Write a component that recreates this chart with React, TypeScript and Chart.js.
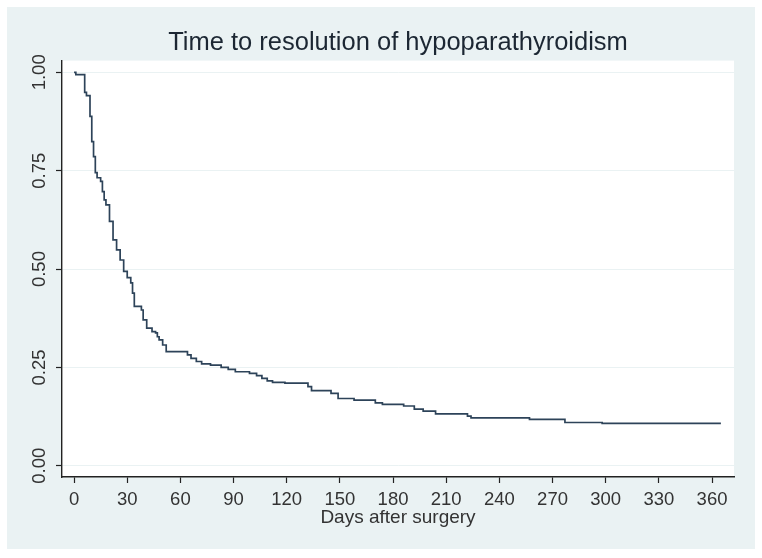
import React, { useEffect, useRef } from 'react';
import { Chart, registerables } from 'chart.js';

Chart.register(...registerables);

// Kaplan-Meier estimate (day of each step, survival after it)
const days = [
  0, 1, 6, 7, 9, 10, 11, 12, 13, 15, 16, 17, 18, 20, 22, 24, 26, 28, 30, 32, 33, 34, 38, 39, 41, 44,
  46, 47, 48, 50, 52, 64, 66, 69, 72, 77, 83, 87, 91, 99, 103, 106, 109, 112, 119, 132, 134, 145, 149,
  158, 170, 174, 186, 192, 197, 204, 222, 224, 257, 277, 298, 365,
];
const survival = [
  1.0, 0.994, 0.949, 0.941, 0.888, 0.824, 0.786, 0.745, 0.732, 0.723, 0.697, 0.676, 0.663, 0.621, 0.574,
  0.549, 0.523, 0.494, 0.478, 0.465, 0.439, 0.405, 0.396, 0.371, 0.35, 0.341, 0.338, 0.328, 0.32, 0.307,
  0.29, 0.282, 0.273, 0.265, 0.259, 0.256, 0.25, 0.245, 0.239, 0.235, 0.229, 0.222, 0.216, 0.212, 0.21,
  0.201, 0.191, 0.184, 0.171, 0.167, 0.16, 0.156, 0.152, 0.144, 0.139, 0.132, 0.126, 0.122, 0.118, 0.11,
  0.108, 0.108,
];

const xTicks = [0, 30, 60, 90, 120, 150, 180, 210, 240, 270, 300, 330, 360];
const yTicks = [0, 0.25, 0.5, 0.75, 1];

const FONT = "'Liberation Sans', Arial, Helvetica, sans-serif";

const plotBackground = {
  id: 'plotBackground',
  beforeDraw(chart: Chart) {
    const { ctx, chartArea } = chart;
    ctx.save();
    ctx.fillStyle = '#ffffff';
    ctx.fillRect(chartArea.left, chartArea.top, chartArea.right - chartArea.left, chartArea.bottom - chartArea.top);
    ctx.restore();
  },
};

export default function App() {
  const canvasRef = useRef<HTMLCanvasElement>(null);

  useEffect(() => {
    if (!canvasRef.current) return;

    const chart = new Chart(canvasRef.current, {
      type: 'line',
      data: {
        datasets: [
          {
            label: 'Survivor function',
            data: days.map((d, i) => ({ x: d, y: survival[i] })),
            borderColor: '#2d4359',
            borderWidth: 1.7,
            stepped: true,
            pointRadius: 0,
            fill: false,
          },
        ],
      },
      plugins: [plotBackground],
      options: {
        responsive: true,
        maintainAspectRatio: false,
        animation: false,
        layout: { padding: { left: 0, right: 21, top: 0, bottom: 0 } },
        plugins: {
          legend: { display: false },
          tooltip: { enabled: false },
          title: {
            display: true,
            text: 'Time to resolution of hypoparathyroidism',
            fullSize: false,
            color: '#1c2733',
            font: { family: FONT, size: 25.5, weight: 'normal' },
            padding: { top: 21, bottom: 2 },
          },
        },
        scales: {
          x: {
            type: 'linear',
            min: -6.8,
            max: 372.4,
            afterBuildTicks: (s: any) => {
              s.ticks = xTicks.map((v) => ({ value: v }));
            },
            afterFit: (s: any) => {
              s.height = 72;
            },
            grid: { drawOnChartArea: false, drawTicks: true, tickLength: 6, tickColor: '#222', tickWidth: 1.2 },
            border: { display: true, color: '#222', width: 1.4 },
            ticks: {
              autoSkip: false,
              maxRotation: 0,
              padding: 6,
              color: '#333',
              font: { family: FONT, size: 18.5 },
            },
            title: {
              display: true,
              text: 'Days after surgery',
              color: '#333',
              font: { family: FONT, size: 19 },
              padding: { top: 0, bottom: 20 },
            },
          },
          y: {
            type: 'linear',
            min: -0.0285,
            max: 1.0298,
            afterBuildTicks: (s: any) => {
              s.ticks = yTicks.map((v) => ({ value: v }));
            },
            afterFit: (s: any) => {
              s.width = 55;
            },
            grid: { color: '#eaf2f3', lineWidth: 1, drawTicks: true, tickLength: 6, tickColor: '#222', tickWidth: 1.2 },
            border: { display: true, color: '#222', width: 1.4 },
            ticks: {
              minRotation: 90,
              maxRotation: 90,
              crossAlign: 'center',
              padding: -2,
              color: '#333',
              font: { family: FONT, size: 18.5 },
              callback: (v: any) => Number(v).toFixed(2),
            },
          },
        },
      },
    });

    return () => chart.destroy();
  }, []);

  return (
    <div style={{ position: 'absolute', left: 0, top: 0, width: 762, height: 558, background: '#ffffff' }}>
      <div style={{ position: 'absolute', left: 7, top: 7, width: 748, height: 542, background: '#eaf2f3' }}>
        <canvas ref={canvasRef}></canvas>
      </div>
    </div>
  );
}
